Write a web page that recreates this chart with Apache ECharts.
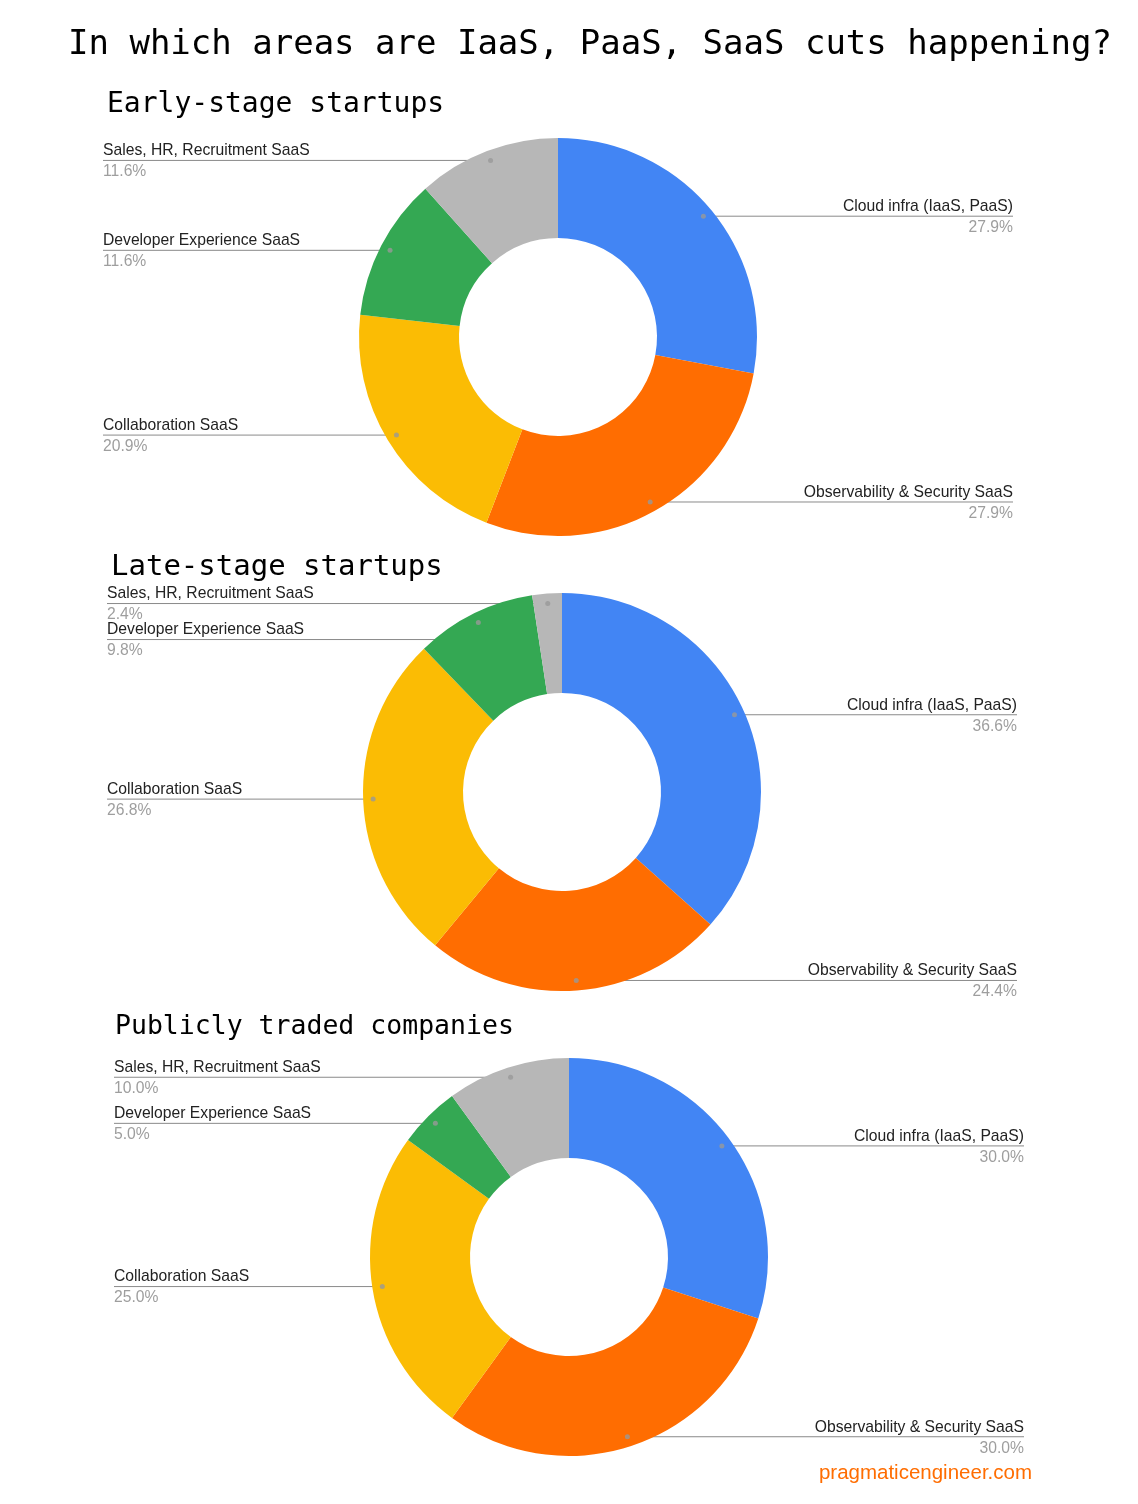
<!DOCTYPE html>
<html><head><meta charset="utf-8">
<script src="https://cdn.jsdelivr.net/npm/echarts@6/dist/echarts.min.js"></script>
<style>html,body{margin:0;padding:0;background:#fff}#c{width:1138px;height:1504px}</style>
</head><body><div id="c"></div><script>
// ---- data ----
const categories = ['Cloud infra (IaaS, PaaS)', 'Observability & Security SaaS', 'Collaboration SaaS', 'Developer Experience SaaS', 'Sales, HR, Recruitment SaaS'];
const earlyStage = [27.9, 27.9, 20.9, 11.6, 11.6];
const lateStage = [36.6, 24.4, 26.8, 9.8, 2.4];
const publicCompanies = [30.0, 30.0, 25.0, 5.0, 10.0];
const mainTitle = 'In which areas are IaaS, PaaS, SaaS cuts happening?';
const sectionTitles = ['Early-stage startups', 'Late-stage startups', 'Publicly traded companies'];
const footerText = 'pragmaticengineer.com';

// ---- style / layout ----
const colors = ['#4285F4', '#FF6D01', '#FBBC04', '#34A853', '#B7B7B7'];
const datasets = [earlyStage, lateStage, publicCompanies];
const layouts = [
  { cx: 558, cy: 337, left: 103, right: 1013, titleLeft: 107, titleTop: 89, titleSize: 28 },
  { cx: 562, cy: 792, left: 107, right: 1017, titleLeft: 111, titleTop: 551, titleSize: 29 },
  { cx: 569, cy: 1257, left: 114, right: 1024, titleLeft: 115, titleTop: 1011, titleSize: 26.5 }
];
const R_OUT = 199, R_IN = 99, DOT_R = 189;
const LABEL_FONT = 'Liberation Sans, Arial, sans-serif';
const HAND_FONT = 'DejaVu Sans Mono, Liberation Mono, monospace';

const chart = echarts.init(document.getElementById('c'), null, { renderer: 'canvas' });

const series = [];
const polar = [], angleAxis = [], radiusAxis = [];
datasets.forEach((vals, i) => {
  const L = layouts[i];
  const box = { left: L.left, width: L.right - L.left, top: 0, height: 1504 };
  const center = [L.cx - L.left, L.cy];
  const pieData = categories.map((c, j) => ({ name: c, value: vals[j], itemStyle: { color: colors[j] } }));
  series.push(Object.assign({
    type: 'pie', center: center, radius: [R_IN, R_OUT], startAngle: 90, clockwise: true,
    silent: true, animation: false, label: { show: false }, labelLine: { show: false },
    itemStyle: { borderWidth: 0 },
    emphasis: { disabled: true }, data: pieData
  }, box));
  series.push(Object.assign({
    type: 'pie', center: center, radius: [0, DOT_R], startAngle: 90, clockwise: true,
    silent: true, animation: false, emphasis: { disabled: true },
    itemStyle: { color: 'rgba(0,0,0,0)', borderWidth: 0 },
    label: {
      show: true, position: 'outer', alignTo: 'edge', edgeDistance: 0, minMargin: -3,
      formatter: (p) => '{n|' + p.name + '}\n{p|' + Number(p.value).toFixed(1) + '%}',
      rich: {
        n: { fontSize: 15.7, color: '#222', fontFamily: LABEL_FONT, lineHeight: 21, padding: [2, 0, 0, 0] },
        p: { fontSize: 15.7, color: '#9e9e9e', fontFamily: LABEL_FONT, lineHeight: 21, padding: [2, 0, 0, 0] }
      }
    },
    labelLine: { show: true, length: 0, length2: 40, minTurnAngle: 0, maxSurfaceAngle: 180,
      lineStyle: { color: '#8a8a8a', width: 1 } },
    labelLayout: function (p) {
      const pts = p.labelLinePoints;
      if (!pts) return {};
      const isLeft = p.labelRect.x + p.labelRect.width / 2 < L.cx;
      pts[2][0] = isLeft ? p.labelRect.x : p.labelRect.x + p.labelRect.width;
      return { labelLinePoints: pts };
    },
    data: categories.map((c, j) => ({ name: c, value: vals[j] }))
  }, box));
  const total = vals.reduce((a, b) => a + b, 0);
  polar.push({ center: [L.cx, L.cy], radius: R_OUT });
  angleAxis.push({ polarIndex: i, type: 'value', min: 0, max: total, startAngle: 90, clockwise: true, show: false });
  radiusAxis.push({ polarIndex: i, type: 'value', min: 0, max: R_OUT, show: false });
  let cum = 0;
  const dots = vals.map(v => { const m = cum + v / 2; cum += v; return [DOT_R, m]; });
  series.push({ type: 'scatter', coordinateSystem: 'polar', polarIndex: i, symbolSize: 5,
    itemStyle: { color: '#999' }, silent: true, animation: false, z: 5, data: dots });
});

const titles = [
  { text: mainTitle, left: 68, top: 25, padding: 0,
    textStyle: { fontFamily: HAND_FONT, fontSize: 34, fontWeight: 'normal', color: '#000', lineHeight: 40 } },
  ...sectionTitles.map((t, i) => ({ text: t, left: layouts[i].titleLeft, top: layouts[i].titleTop, padding: 0,
    textStyle: { fontFamily: HAND_FONT, fontSize: layouts[i].titleSize, fontWeight: 'normal', color: '#000', lineHeight: 32 } })),
  { text: footerText, right: 106, top: 1461, padding: 0,
    textStyle: { fontFamily: LABEL_FONT, fontSize: 20.5, fontWeight: 'normal', color: '#FF6D01', lineHeight: 24 } }
];

chart.setOption({
  backgroundColor: '#fff',
  animation: false,
  title: titles,
  polar: polar, angleAxis: angleAxis, radiusAxis: radiusAxis,
  series: series
});
</script></body></html>
